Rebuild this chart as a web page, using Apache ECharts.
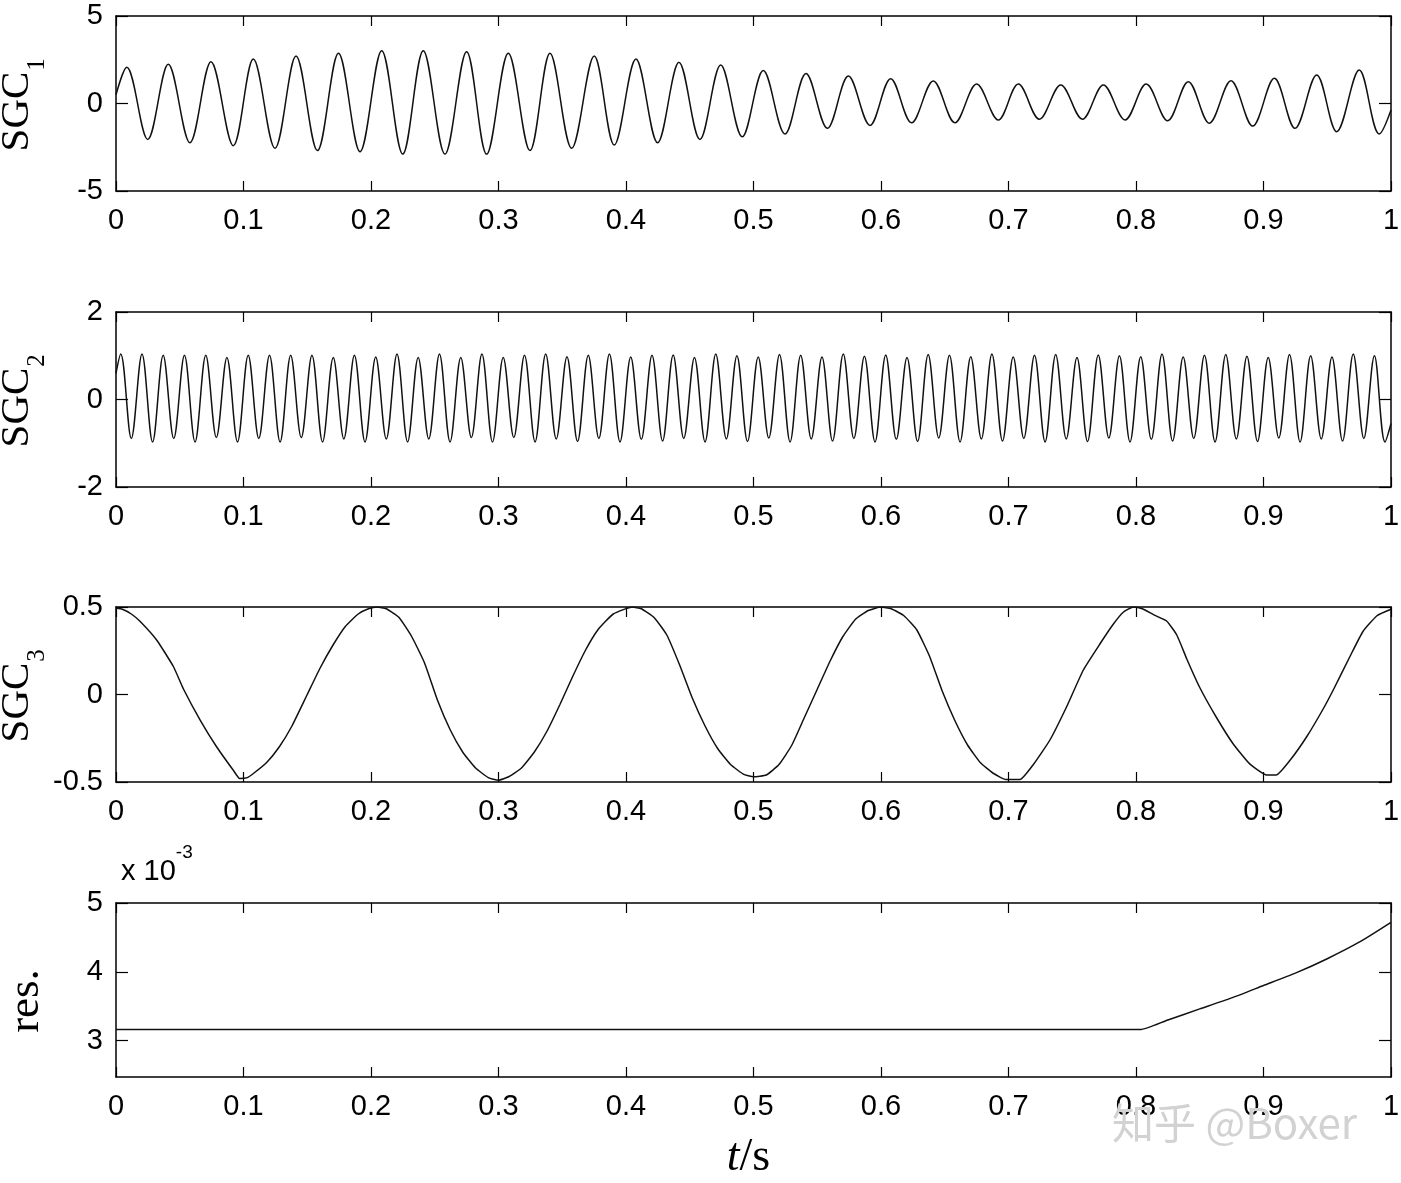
<!DOCTYPE html>
<html><head><meta charset="utf-8">
<script src="https://cdn.jsdelivr.net/npm/echarts@6/dist/echarts.min.js"></script>
<style>html,body{margin:0;padding:0;background:#fff}#c{width:1401px;height:1183px}</style>
</head><body><div id="c"></div>
<script>
// ---- x axis ----
const tMin = 0, tMax = 1, tStep = 0.1;

// ---- SGC1: start, then alternating peak / trough, end ----
const sgc1T = [0, 0.0084, 0.0249, 0.041, 0.058, 0.0745, 0.092, 0.1077, 0.1247, 0.1412, 0.158,
  0.1745, 0.1914, 0.2084, 0.2249, 0.241, 0.258, 0.275, 0.2907, 0.3077, 0.3247, 0.3404, 0.3574,
  0.3751, 0.3908, 0.4078, 0.4248, 0.4416, 0.458, 0.4743, 0.4912, 0.5077, 0.5247, 0.5412, 0.558,
  0.5744, 0.5914, 0.6076, 0.624, 0.641, 0.658, 0.675, 0.692, 0.7077, 0.7242, 0.741, 0.758,
  0.7744, 0.7914, 0.808, 0.8248, 0.841, 0.8575, 0.8745, 0.8915, 0.9085, 0.9247, 0.9417, 0.9574,
  0.9751, 0.9908, 1.0];
const sgc1V = [0.5, 2.07, -2.05, 2.24, -2.24, 2.39, -2.41, 2.54, -2.56, 2.71, -2.69, 2.87, -2.75,
  3.02, -2.89, 3.02, -2.89, 2.96, -2.89, 2.87, -2.69, 2.87, -2.56, 2.71, -2.37, 2.54, -2.24,
  2.35, -2.05, 2.2, -1.9, 1.88, -1.74, 1.72, -1.42, 1.57, -1.25, 1.42, -1.1, 1.29, -1.1, 1.11,
  -0.94, 1.11, -0.9, 1.06, -0.9, 1.06, -0.94, 1.11, -0.98, 1.25, -1.13, 1.3, -1.29, 1.44, -1.42,
  1.63, -1.61, 1.91, -1.74, -0.37];

// ---- SGC2: peaks and troughs ----
const sgc2Start = [0, 0.6];
const sgc2End = [1, -0.55];
const sgc2PeakT = [0.0037, 0.0204, 0.0370, 0.0537, 0.0704, 0.0870, 0.1037, 0.1204, 0.1370, 0.1537,
  0.1704, 0.1870, 0.2037, 0.2204, 0.2370, 0.2537, 0.2704, 0.2870, 0.3037, 0.3204, 0.3370, 0.3537,
  0.3704, 0.3870, 0.4037, 0.4204, 0.4370, 0.4537, 0.4704, 0.4870, 0.5037, 0.5204, 0.5370, 0.5537,
  0.5704, 0.5870, 0.6037, 0.6204, 0.6370, 0.6537, 0.6704, 0.6870, 0.7037, 0.7204, 0.7370, 0.7537,
  0.7704, 0.7870, 0.8037, 0.8204, 0.8370, 0.8537, 0.8704, 0.8870, 0.9037, 0.9204, 0.9370, 0.9537,
  0.9704, 0.9870];
const sgc2PeakV = [1.04, 1.04, 1.01, 1.01, 1.01, 0.96, 1.01, 1.01, 1.01, 1.01, 0.96, 1.01, 0.97,
  1.04, 0.96, 1.04, 0.96, 1.04, 0.96, 1.01, 1.04, 0.98, 1.01, 1.04, 0.97, 1.01, 1.02, 0.96, 1.04,
  1.0, 0.97, 1.03, 1.01, 0.97, 1.04, 0.99, 1.02, 0.96, 1.03, 1.01, 0.98, 1.04, 0.97, 1.01, 1.03,
  0.96, 1.02, 1.0, 0.98, 1.04, 0.97, 1.01, 1.03, 0.99, 0.96, 1.03, 1.0, 0.97, 1.04, 1.0];
const sgc2TroughT = [0.0120, 0.0287, 0.0453, 0.0620, 0.0787, 0.0953, 0.1120, 0.1287, 0.1453, 0.1620,
  0.1787, 0.1953, 0.2120, 0.2287, 0.2453, 0.2620, 0.2787, 0.2953, 0.3120, 0.3287, 0.3453, 0.3620,
  0.3787, 0.3953, 0.4120, 0.4287, 0.4453, 0.4620, 0.4787, 0.4953, 0.5120, 0.5287, 0.5453, 0.5620,
  0.5787, 0.5953, 0.6120, 0.6287, 0.6453, 0.6620, 0.6787, 0.6953, 0.7120, 0.7287, 0.7453, 0.7620,
  0.7787, 0.7953, 0.8120, 0.8287, 0.8453, 0.8620, 0.8787, 0.8953, 0.9120, 0.9287, 0.9453, 0.9620,
  0.9787, 0.9953];
const sgc2TroughV = [-0.89, -0.97, -0.89, -0.97, -0.87, -0.97, -0.89, -0.97, -0.87, -0.97, -0.90,
  -0.97, -0.90, -0.97, -0.90, -0.97, -0.87, -0.97, -0.87, -0.97, -0.90, -0.96, -0.89, -0.97, -0.91,
  -0.95, -0.89, -0.97, -0.90, -0.96, -0.88, -0.97, -0.90, -0.95, -0.89, -0.97, -0.91, -0.96, -0.88,
  -0.97, -0.90, -0.95, -0.89, -0.97, -0.90, -0.96, -0.88, -0.97, -0.91, -0.95, -0.89, -0.97, -0.90,
  -0.96, -0.88, -0.97, -0.90, -0.95, -0.89, -0.97];

// ---- SGC3 ----
const sgc3T = [0, 0.005, 0.012, 0.019, 0.032, 0.045, 0.053, 0.066, 0.079, 0.092, 0.097, 0.103, 0.108,
  0.118, 0.128, 0.138, 0.150, 0.160, 0.170, 0.180, 0.190, 0.198, 0.205,
  0.212, 0.222, 0.232, 0.242, 0.252, 0.262, 0.272, 0.282, 0.292, 0.300, 0.308, 0.318, 0.328, 0.338,
  0.348, 0.358, 0.368, 0.378, 0.390, 0.405,
  0.412, 0.422, 0.432, 0.442, 0.452, 0.462, 0.472, 0.482, 0.492, 0.500, 0.510, 0.520, 0.530, 0.540,
  0.550, 0.560, 0.570, 0.580, 0.590, 0.600,
  0.608, 0.618, 0.628, 0.638, 0.648, 0.658, 0.668, 0.678, 0.688, 0.698, 0.709, 0.7195, 0.7325,
  0.7456, 0.7587, 0.7718, 0.782, 0.790, 0.798,
  0.805, 0.814, 0.824, 0.832, 0.840, 0.850, 0.863, 0.876, 0.889, 0.9025, 0.910, 0.9208, 0.934,
  0.947, 0.955, 0.968, 0.978, 0.989, 1.0];
const sgc3V = [0.494, 0.487, 0.46, 0.417, 0.31, 0.16, 0.03, -0.146, -0.30, -0.433, -0.48, -0.475, -0.45,
  -0.39, -0.30, -0.18, 0.0, 0.15, 0.28, 0.39, 0.46, 0.49, 0.50,
  0.49, 0.44, 0.33, 0.18, -0.03, -0.20, -0.33, -0.42, -0.475, -0.49, -0.47, -0.42, -0.33, -0.21,
  -0.06, 0.10, 0.25, 0.37, 0.46, 0.50,
  0.49, 0.44, 0.34, 0.17, -0.02, -0.18, -0.31, -0.40, -0.455, -0.47, -0.46, -0.40, -0.29, -0.13,
  0.03, 0.19, 0.33, 0.43, 0.48, 0.50,
  0.49, 0.45, 0.37, 0.22, 0.02, -0.15, -0.29, -0.39, -0.45, -0.486, -0.486, -0.40, -0.26,
  -0.07, 0.14, 0.29, 0.40, 0.47, 0.50,
  0.49, 0.455, 0.42, 0.34, 0.20, 0.04, -0.13, -0.28, -0.395, -0.46, -0.46, -0.376, -0.24,
  -0.08, 0.03, 0.22, 0.36, 0.45, 0.487];

// ---- residual (x 10^-3) ----
const resT = [0, 0.803, 0.825, 0.85, 0.875, 0.9, 0.925, 0.95, 0.975, 1.0];
const resV = [3.16, 3.16, 3.30, 3.46, 3.62, 3.80, 3.98, 4.19, 4.43, 4.72];
const resTicks = [3, 4, 5];

// ---- labels ----
const panelNames = ['SGC', 'SGC', 'SGC', 'res.'];
const panelSubs = ['1', '2', '3', ''];
const xName = ['t', '/s'];
const expMain = 'x 10', expSup = '-3';
const watermark = '知乎 @Boxer';

// ---- build series data ----
const zip = (a, b) => a.map((t, i) => [t, b[i]]);
const sgc1Pts = zip(sgc1T, sgc1V);
const sgc2Pts = [sgc2Start];
sgc2PeakT.forEach((t, i) => { sgc2Pts.push([t, sgc2PeakV[i]]); sgc2Pts.push([sgc2TroughT[i], sgc2TroughV[i]]); });
sgc2Pts.push(sgc2End);
const sgc3Pts = zip(sgc3T, sgc3V);
const resPts = zip(resT, resV);

// ---- layout ----
const gridTops = [16, 312, 607, 903];
const gridHeights = [175, 175, 175, 174];
const yCfg = [
  { min: -5, max: 5, interval: 5 },
  { min: -2, max: 2, interval: 2 },
  { min: -0.5, max: 0.5, interval: 0.5 },
  { min: 2.47, max: 5, custom: resTicks }
];

const FONT = '"Liberation Sans", Arial, Helvetica, sans-serif';
const SERIF = '"Liberation Serif", "Times New Roman", serif';
const lineSt = { color: '#000', width: 1.5 };
const tickSt = { color: '#000', width: 1.2 };

const grids = [], xAxes = [], yAxes = [], series = [], graphics = [];
const allPts = [sgc1Pts, sgc2Pts, sgc3Pts, resPts];
for (let i = 0; i < 4; i++) {
  grids.push({ left: 116, right: 10, top: gridTops[i], height: gridHeights[i], containLabel: false, outerBoundsMode: 'none' });
  const xBase = { type: 'value', gridIndex: i, min: tMin, max: tMax, interval: tStep,
    axisLine: { show: true, onZero: false, lineStyle: lineSt },
    axisTick: { show: true, inside: true, length: 10, lineStyle: tickSt },
    splitLine: { show: false } };
  xAxes.push(Object.assign({}, xBase, { position: 'bottom',
    axisLabel: { show: true, color: '#000', fontFamily: FONT, fontSize: 29, margin: 15 },
    ...(i === 3 ? { name: '{i|' + xName[0] + '}{r|' + xName[1] + '}', nameLocation: 'middle', nameGap: 58,
      nameTextStyle: { rich: {
        i: { fontFamily: SERIF, fontStyle: 'italic', fontSize: 46, color: '#000' },
        r: { fontFamily: SERIF, fontSize: 46, color: '#000', padding: [0, 10, 0, 0] } } } } : {}) }));
  xAxes.push(Object.assign({}, xBase, { position: 'top', axisLabel: { show: false } }));

  const yc = yCfg[i];
  const yBase = { type: 'value', gridIndex: i, min: yc.min, max: yc.max,
    axisLine: { show: true, onZero: false, lineStyle: lineSt },
    splitLine: { show: false } };
  if (yc.interval) yBase.interval = yc.interval;
  const tickL = { show: true, inside: true, length: 12, lineStyle: tickSt };
  if (yc.custom) tickL.customValues = yc.custom;
  const lab = { show: true, color: '#000', fontFamily: FONT, fontSize: 29, margin: 13 };
  if (yc.custom) lab.customValues = yc.custom;
  yAxes.push(Object.assign({}, yBase, { position: 'left', axisTick: tickL, axisLabel: lab }));
  yAxes.push(Object.assign({}, yBase, { position: 'right', axisTick: Object.assign({}, tickL), axisLabel: { show: false } }));

  series.push({ type: 'line', xAxisIndex: 2 * i, yAxisIndex: 2 * i, data: allPts[i],
    showSymbol: false, smooth: i === 3 ? 0.2 : (i === 2 ? 0.15 : 0.35), silent: true,
    lineStyle: { color: '#111', width: 1.5 } });

  // rotated panel names
  const cy = gridTops[i] + gridHeights[i] / 2;
  if (panelSubs[i]) {
    graphics.push({ type: 'text', x: 17, y: cy + 8, rotation: Math.PI / 2, z: 50,
      style: { text: panelNames[i], fontFamily: SERIF, fontSize: 41, fill: '#000',
        align: 'center', verticalAlign: 'middle', textAlign: 'center', textVerticalAlign: 'middle' } });
    graphics.push({ type: 'text', x: 37, y: cy + 8 - 47, rotation: Math.PI / 2, z: 50,
      style: { text: panelSubs[i], fontFamily: SERIF, fontSize: 25, fill: '#000',
        align: 'center', verticalAlign: 'middle', textAlign: 'center', textVerticalAlign: 'middle' } });
  } else {
    graphics.push({ type: 'text', x: 26, y: cy + 11, rotation: Math.PI / 2, z: 50,
      style: { text: panelNames[i], fontFamily: SERIF, fontSize: 45, fill: '#000',
        align: 'center', verticalAlign: 'middle', textAlign: 'center', textVerticalAlign: 'middle' } });
  }
}

graphics.push({ type: 'text', left: 121, top: 843, z: 50,
  style: { text: '{a|' + expMain + '}{b|' + expSup + '}', rich: {
    a: { fontFamily: FONT, fontSize: 29, lineHeight: 29, padding: [14, 0, 0, 0], verticalAlign: 'top', fill: '#000' },
    b: { fontFamily: FONT, fontSize: 19, lineHeight: 19, verticalAlign: 'top', fill: '#000' } } } });
graphics.push({ type: 'text', left: 1112, top: 1102, z: 100,
  style: { text: watermark, fontFamily: '"Noto Sans CJK SC", "Noto Sans", sans-serif', fontSize: 42,
    fill: '#d2d2d2', shadowColor: 'rgba(0,0,0,0.45)', shadowBlur: 1, shadowOffsetX: 1, shadowOffsetY: 1 } });

const chart = echarts.init(document.getElementById('c'), null, { renderer: 'canvas' });
chart.setOption({
  animation: false,
  backgroundColor: '#fff',
  grid: grids, xAxis: xAxes, yAxis: yAxes, series: series,
  graphic: graphics
});
</script></body></html>
